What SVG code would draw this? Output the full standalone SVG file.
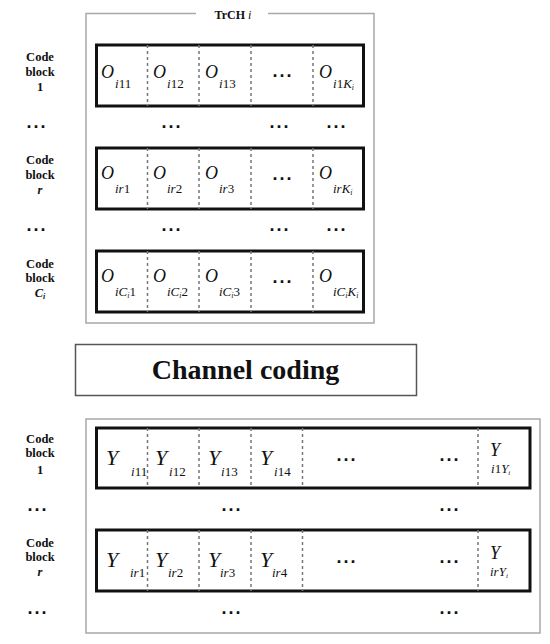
<svg xmlns="http://www.w3.org/2000/svg" width="550" height="644" viewBox="0 0 550 644">
<style>
.outer{fill:none;stroke:#a8a8a8;stroke-width:1.5}
.blk{fill:none;stroke:#111;stroke-width:3}
.div{stroke:#777;stroke-width:1.5;stroke-dasharray:3,3}
.lbl{font-family:"Liberation Serif",serif;font-weight:bold;font-size:12.5px;fill:#111;text-anchor:middle}
.dots{font-family:"Liberation Sans",sans-serif;font-weight:bold;font-size:18px;fill:#111;text-anchor:middle;letter-spacing:2px}
.sym{font-family:"Liberation Serif",serif;font-style:italic;font-size:18px;fill:#111}
.symY{font-family:"Liberation Serif",serif;font-style:italic;font-size:22px;fill:#111}
.sub{font-family:"Liberation Serif",serif;font-size:13px;fill:#111}
.it{font-style:italic}
.title{font-family:"Liberation Serif",serif;font-weight:bold;font-size:12px;fill:#111;text-anchor:middle}
.big{font-family:"Liberation Serif",serif;font-weight:bold;font-size:28px;fill:#111;text-anchor:middle}
</style>
<g id="connectors"></g>

<g id="trch">
<path class="outer" d="M196,13.5 H86 V323 H374 V13.5 H268"/>
<text class="title" x="233" y="19">TrCH <tspan font-style="italic" font-weight="normal">i</tspan></text>
</g>

<g id="label-top-1">
<text class="lbl" x="40" y="61">Code</text>
<text class="lbl" x="40" y="76">block</text>
<text class="lbl" x="40" y="91">1</text>
</g>
<g id="block-top-1">
<rect class="blk" x="96.5" y="45" width="267" height="61"/>
<line class="div" x1="147.5" y1="45" x2="147.5" y2="106"/>
<line class="div" x1="199" y1="45" x2="199" y2="106"/>
<line class="div" x1="251" y1="45" x2="251" y2="106"/>
<line class="div" x1="313" y1="45" x2="313" y2="106"/>
<text class="sym" x="101" y="78">O</text><text class="sub" x="115" y="88"><tspan class="it">i</tspan>11</text>
<text class="sym" x="153" y="78">O</text><text class="sub" x="167" y="88"><tspan class="it">i</tspan>12</text>
<text class="sym" x="205" y="78">O</text><text class="sub" x="219" y="88"><tspan class="it">i</tspan>13</text>
<text class="dots" x="283" y="77">...</text>
<text class="sym" x="319" y="78">O</text><text class="sub" x="333" y="88"><tspan class="it">i</tspan>1<tspan class="it">K</tspan><tspan class="it" font-size="8" dy="2">i</tspan></text>
</g>

<g id="dots-top-1">
<text class="dots" x="37" y="128">...</text>
<text class="dots" x="172" y="128">...</text>
<text class="dots" x="280" y="128">...</text>
<text class="dots" x="337" y="128">...</text>
</g>

<g id="label-top-r">
<text class="lbl" x="40" y="164">Code</text>
<text class="lbl" x="40" y="179">block</text>
<text class="lbl" x="40" y="194" font-style="italic">r</text>
</g>
<g id="block-top-r">
<rect class="blk" x="96.5" y="148" width="267" height="61"/>
<line class="div" x1="147.5" y1="148" x2="147.5" y2="209"/>
<line class="div" x1="199" y1="148" x2="199" y2="209"/>
<line class="div" x1="251" y1="148" x2="251" y2="209"/>
<line class="div" x1="313" y1="148" x2="313" y2="209"/>
<text class="sym" x="101" y="179">O</text><text class="sub" x="115" y="193"><tspan class="it">ir</tspan>1</text>
<text class="sym" x="153" y="179">O</text><text class="sub" x="167" y="193"><tspan class="it">ir</tspan>2</text>
<text class="sym" x="205" y="179">O</text><text class="sub" x="219" y="193"><tspan class="it">ir</tspan>3</text>
<text class="dots" x="283" y="180">...</text>
<text class="sym" x="319" y="179">O</text><text class="sub" x="333" y="193"><tspan class="it">irK</tspan><tspan class="it" font-size="8" dy="2">i</tspan></text>
</g>

<g id="dots-top-2">
<text class="dots" x="37" y="231">...</text>
<text class="dots" x="172" y="231">...</text>
<text class="dots" x="280" y="231">...</text>
<text class="dots" x="337" y="231">...</text>
</g>

<g id="label-top-c">
<text class="lbl" x="40" y="268">Code</text>
<text class="lbl" x="40" y="282">block</text>
<text class="lbl" x="40" y="297" font-style="italic">C<tspan font-size="8" dy="2">i</tspan></text>
</g>
<g id="block-top-c">
<rect class="blk" x="96.5" y="251" width="267" height="61"/>
<line class="div" x1="147.5" y1="251" x2="147.5" y2="312"/>
<line class="div" x1="199" y1="251" x2="199" y2="312"/>
<line class="div" x1="251" y1="251" x2="251" y2="312"/>
<line class="div" x1="313" y1="251" x2="313" y2="312"/>
<text class="sym" x="101" y="282">O</text><text class="sub" x="115" y="296"><tspan class="it">iC</tspan><tspan class="it" font-size="8" dy="2">i</tspan><tspan dy="-2">1</tspan></text>
<text class="sym" x="153" y="282">O</text><text class="sub" x="167" y="296"><tspan class="it">iC</tspan><tspan class="it" font-size="8" dy="2">i</tspan><tspan dy="-2">2</tspan></text>
<text class="sym" x="205" y="282">O</text><text class="sub" x="219" y="296"><tspan class="it">iC</tspan><tspan class="it" font-size="8" dy="2">i</tspan><tspan dy="-2">3</tspan></text>
<text class="dots" x="283" y="283">...</text>
<text class="sym" x="319" y="282">O</text><text class="sub" x="333" y="296"><tspan class="it">iC</tspan><tspan class="it" font-size="8" dy="2">i</tspan><tspan class="it" dy="-2">K</tspan><tspan class="it" font-size="8" dy="2">i</tspan></text>
</g>

<g id="channel-coding">
<rect x="75.5" y="344.5" width="341" height="51" fill="none" stroke="#555" stroke-width="1.5"/>
<text class="big" x="245.5" y="379">Channel coding</text>
</g>

<g id="bottom-frame">
<rect class="outer" x="86" y="419" width="454" height="214"/>
</g>

<g id="label-bot-1">
<text class="lbl" x="40" y="443">Code</text>
<text class="lbl" x="40" y="457">block</text>
<text class="lbl" x="40" y="474">1</text>
</g>
<g id="block-bot-1">
<rect class="blk" x="96.5" y="428" width="433.5" height="60"/>
<line class="div" x1="147.5" y1="428" x2="147.5" y2="488"/>
<line class="div" x1="199" y1="428" x2="199" y2="488"/>
<line class="div" x1="251" y1="428" x2="251" y2="488"/>
<line class="div" x1="302.5" y1="428" x2="302.5" y2="488"/>
<line class="div" x1="478" y1="428" x2="478" y2="488"/>
<text class="symY" x="106" y="465">Y</text><text class="sub" x="131" y="476"><tspan class="it">i</tspan>11</text>
<text class="symY" x="155" y="465">Y</text><text class="sub" x="169" y="476"><tspan class="it">i</tspan>12</text>
<text class="symY" x="208" y="465">Y</text><text class="sub" x="221" y="476"><tspan class="it">i</tspan>13</text>
<text class="symY" x="260" y="465">Y</text><text class="sub" x="274" y="476"><tspan class="it">i</tspan>14</text>
<text class="dots" x="347" y="461">...</text>
<text class="dots" x="450" y="461">...</text>
<text class="sym" x="490" y="456" font-size="16">Y</text><text class="sub" x="491" y="473" font-size="11"><tspan class="it">i</tspan>1<tspan class="it">Y</tspan><tspan class="it" font-size="7" dy="2">i</tspan></text>
</g>

<g id="dots-bot-1">
<text class="dots" x="38" y="511">...</text>
<text class="dots" x="232" y="511">...</text>
<text class="dots" x="450" y="511">...</text>
</g>

<g id="label-bot-r">
<text class="lbl" x="40" y="547">Code</text>
<text class="lbl" x="40" y="561">block</text>
<text class="lbl" x="40" y="576" font-style="italic">r</text>
</g>
<g id="block-bot-r">
<rect class="blk" x="96.5" y="530" width="433.5" height="61"/>
<line class="div" x1="147.5" y1="530" x2="147.5" y2="591"/>
<line class="div" x1="199" y1="530" x2="199" y2="591"/>
<line class="div" x1="251" y1="530" x2="251" y2="591"/>
<line class="div" x1="302.5" y1="530" x2="302.5" y2="591"/>
<line class="div" x1="478" y1="530" x2="478" y2="591"/>
<text class="symY" x="106" y="567">Y</text><text class="sub" x="130" y="577"><tspan class="it">ir</tspan>1</text>
<text class="symY" x="155" y="567">Y</text><text class="sub" x="168" y="577"><tspan class="it">ir</tspan>2</text>
<text class="symY" x="208" y="567">Y</text><text class="sub" x="220" y="577"><tspan class="it">ir</tspan>3</text>
<text class="symY" x="260" y="567">Y</text><text class="sub" x="272" y="577"><tspan class="it">ir</tspan>4</text>
<text class="dots" x="347" y="563">...</text>
<text class="dots" x="450" y="563">...</text>
<text class="sym" x="490" y="559" font-size="16">Y</text><text class="sub" x="490" y="576" font-size="11"><tspan class="it">irY</tspan><tspan class="it" font-size="7" dy="2">i</tspan></text>
</g>

<g id="dots-bot-2">
<text class="dots" x="38" y="614">...</text>
<text class="dots" x="232" y="614">...</text>
<text class="dots" x="450" y="614">...</text>
</g>
</svg>
